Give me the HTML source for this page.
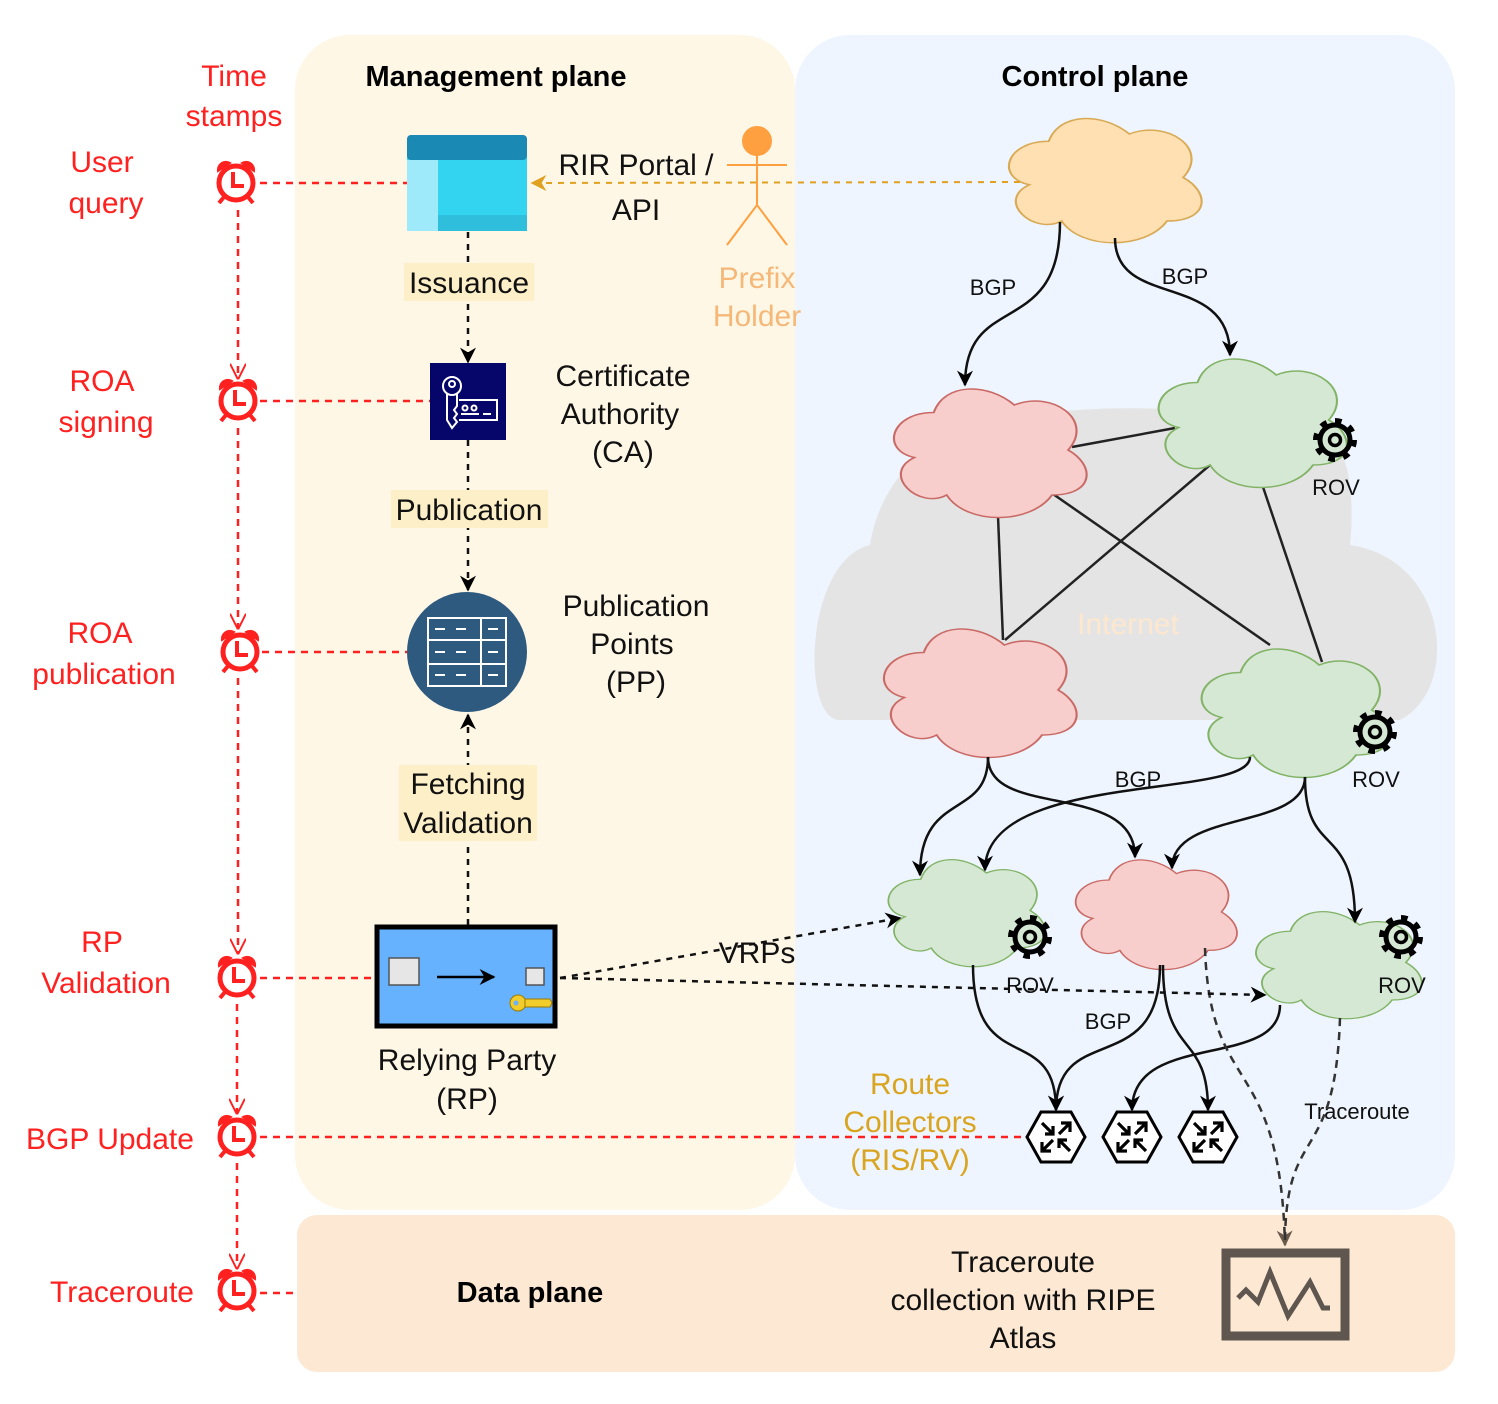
<!DOCTYPE html>
<html><head><meta charset="utf-8"><style>
html,body{margin:0;padding:0;background:#fff;}
svg{display:block;font-family:"Liberation Sans",Arial,sans-serif;}
</style></head><body>
<svg width="1498" height="1404" viewBox="0 0 1498 1404" xmlns="http://www.w3.org/2000/svg">
<defs>
<path id="cl" d="M25,25 C5,25 0,50 16,55 C0,66 18,90 31,80 C40,100 70,100 80,80 C100,80 100,60 87.5,50 C100,30 80,10 62.5,20 C50,5 30,5 25,25 Z"/>
<marker id="ahb" viewBox="0 0 10 10" refX="9" refY="5" markerWidth="16" markerHeight="16" orient="auto" markerUnits="userSpaceOnUse"><path d="M0,0 L10,5 L0,10 L3,5 Z" fill="#000"/></marker>
<marker id="aho" viewBox="0 0 10 10" refX="9" refY="5" markerWidth="16" markerHeight="16" orient="auto" markerUnits="userSpaceOnUse"><path d="M0,0 L10,5 L0,10 L3,5 Z" fill="#e0a020"/></marker>
<marker id="ahbr" viewBox="0 0 10 10" refX="9" refY="5" markerWidth="16" markerHeight="16" orient="auto" markerUnits="userSpaceOnUse"><path d="M0,0 L10,5 L0,10 L3,5 Z" fill="#6a5a4a"/></marker>
<marker id="ahr" viewBox="0 0 10 10" refX="9" refY="5" markerWidth="16" markerHeight="16" orient="auto" markerUnits="userSpaceOnUse"><path d="M0,0 L10,5 L0,10" fill="none" stroke="#ff2020" stroke-width="1.2"/></marker>
<g id="gear"><circle r="19" fill="none" stroke="#000" stroke-width="6" stroke-dasharray="6.5 8.4"/><circle r="15" fill="none" stroke="#000" stroke-width="5"/><circle r="5.5" fill="none" stroke="#000" stroke-width="3.5"/></g>
<g id="alarm" fill="none" stroke="#ff2020"><path d="M-18,-12 A8,8 0 0 1 -6,-20 Z M18,-12 A8,8 0 0 0 6,-20 Z" fill="#ff2020" stroke-width="2"/><circle r="17" stroke-width="5" fill="#fff"/><path d="M-3,-11 V3 H8" stroke-width="4"/><path d="M-12,14 L-17,20 M12,14 L17,20" stroke-width="4"/></g>
<g id="hex"><path d="M-29,0 L-15,-25 L15,-25 L29,0 L15,25 L-15,25 Z" fill="#fff" stroke="#000" stroke-width="3"/><g stroke="#000" stroke-width="3.2" fill="none"><path d="M-14,-14 L-3,-3 M-3,-11 V-3 H-11"/><path d="M14,-14 L3,-3 M5,-14 H14 V-5" /><path d="M-14,14 L-3,3 M-14,5 V14 H-5"/><path d="M14,14 L3,3 M3,11 V3 H11"/></g></g>
</defs>

<rect x="295" y="35" width="500" height="1175" rx="55" fill="#fef7e6"/>
<rect x="795" y="35" width="660" height="1175" rx="55" fill="#eef5fe"/>
<rect x="297" y="1215" width="1158" height="157" rx="20" fill="#fde9d3"/>

<text x="496" y="86" font-size="29" font-weight="bold" text-anchor="middle">Management plane</text>
<text x="1095" y="86" font-size="29" font-weight="bold" text-anchor="middle">Control plane</text>

<path d="M840,720 C800,720 805,560 870,545 C880,480 930,430 1000,420 C1100,400 1250,405 1330,440 C1360,460 1350,545 1350,545 C1450,560 1460,690 1400,720 Z" fill="#e4e4e4"/>
<text x="1128" y="634" font-size="30" fill="#fde7cf" text-anchor="middle">Internet</text>

<g stroke="#222" stroke-width="2.5" fill="none">
<line x1="1072" y1="447" x2="1175" y2="428"/>
<line x1="1053" y1="494" x2="1270" y2="645"/>
<line x1="998" y1="516" x2="1003" y2="640"/>
<line x1="1005" y1="640" x2="1210" y2="465"/>
<line x1="1263" y1="487" x2="1322" y2="662"/>
</g>

<g>
<use href="#cl" transform="translate(995,105) scale(2.15,1.45)" fill="#ffe0b2" stroke="#d9aa55" stroke-width="1"/>
<use href="#cl" transform="translate(880,375) scale(2.15,1.5)" fill="#f8cecc" stroke="#c96a66" stroke-width="1"/>
<use href="#cl" transform="translate(1145,345) scale(2.1,1.5)" fill="#d5e8d4" stroke="#82b366" stroke-width="1"/>
<use href="#cl" transform="translate(870,615) scale(2.15,1.5)" fill="#f8cecc" stroke="#c96a66" stroke-width="1"/>
<use href="#cl" transform="translate(1188,635) scale(2.1,1.5)" fill="#d5e8d4" stroke="#82b366" stroke-width="1"/>
<use href="#cl" transform="translate(877,848) scale(1.75,1.25)" fill="#d5e8d4" stroke="#82b366" stroke-width="1"/>
<use href="#cl" transform="translate(1064,848) scale(1.8,1.28)" fill="#f8cecc" stroke="#c96a66" stroke-width="1"/>
<use href="#cl" transform="translate(1244,900) scale(1.85,1.25)" fill="#d5e8d4" stroke="#82b366" stroke-width="1"/>
</g>

<use href="#gear" x="1335" y="440"/>
<use href="#gear" x="1375" y="732"/>
<use href="#gear" x="1030" y="937"/>
<use href="#gear" x="1401" y="937"/>
<g font-size="22" text-anchor="middle" fill="#111">
<text x="1336" y="495">ROV</text><text x="1376" y="787">ROV</text>
<text x="1030" y="993">ROV</text><text x="1402" y="993">ROV</text>
<text x="993" y="295">BGP</text><text x="1185" y="284">BGP</text>
<text x="1138" y="787">BGP</text><text x="1108" y="1029">BGP</text>
<text x="1357" y="1119">Traceroute</text>
</g>

<g stroke="#111" stroke-width="2.5" fill="none" marker-end="url(#ahb)">
<path d="M1060,222 C1060,340 965,290 965,385"/>
<path d="M1115,238 C1115,310 1230,270 1230,355"/>
<path d="M988,757 C988,820 920,790 920,875"/>
<path d="M988,757 C988,820 1135,780 1135,857"/>
<path d="M1250,757 C1250,800 985,770 985,870"/>
<path d="M1305,777 C1305,830 1172,810 1172,868"/>
<path d="M1305,777 C1305,860 1355,820 1355,922"/>
<path d="M973,965 C973,1080 1056,1020 1056,1110"/>
<path d="M1160,965 C1160,1080 1056,1020 1056,1110"/>
<path d="M1163,965 C1163,1060 1208,1030 1208,1110"/>
<path d="M1280,1005 C1280,1070 1132,1030 1132,1110"/>
</g>
<g stroke="#333" stroke-width="2.5" fill="none" stroke-dasharray="8 6">
<path d="M1205,948 C1210,1100 1280,1050 1285,1245" marker-end="url(#ahbr)"/>
<path d="M1340,1018 C1335,1170 1285,1120 1285,1245"/>
</g>

<use href="#hex" x="1056" y="1137"/><use href="#hex" x="1132" y="1137"/><use href="#hex" x="1208" y="1137"/>

<g font-size="30" fill="#d9a520" text-anchor="middle">
<text x="910" y="1094">Route</text><text x="910" y="1132">Collectors</text><text x="910" y="1170">(RIS/RV)</text>
</g>

<rect x="407" y="135" width="120" height="96" rx="5" fill="#32d4f0"/>
<rect x="407" y="135" width="120" height="25" rx="4" fill="#1a8ab4"/>
<rect x="407" y="160" width="31" height="71" fill="#9eeafb"/>
<rect x="438" y="215" width="89" height="16" fill="#2fbedc"/>

<rect x="430" y="363" width="76" height="77" fill="#06066a"/>
<g stroke="#fff" stroke-width="2" fill="none">
<circle cx="452" cy="386" r="9"/><circle cx="452" cy="384" r="3"/>
<path d="M447,394 V420 L452,428 L457,422 L454,418 L457,414 L454,410 L457,406 V394"/>
<path d="M459,400 H497 V420 H459"/>
<circle cx="465" cy="408" r="2.5"/><circle cx="474" cy="408" r="2.5"/>
<path d="M461,414 H479 M483,414 H491"/>
</g>

<circle cx="467" cy="652" r="60" fill="#2e5a80"/>
<g stroke="#fff" stroke-width="2" fill="none">
<rect x="428" y="618" width="78" height="68"/>
<line x1="428" y1="640" x2="506" y2="640"/><line x1="428" y1="664" x2="506" y2="664"/><line x1="481" y1="618" x2="481" y2="686"/>
<path d="M435,629 h10 M456,629 h10 M488,629 h10 M435,652 h10 M456,652 h10 M488,652 h10 M435,675 h10 M456,675 h10 M488,675 h10"/>
</g>

<rect x="377" y="927" width="178" height="99" fill="#66b2ff" stroke="#000" stroke-width="5"/>
<rect x="389" y="958" width="30" height="27" fill="#e6e6e6" stroke="#555" stroke-width="1.5"/>
<rect x="526" y="968" width="18" height="17" fill="#e6e6e6" stroke="#555" stroke-width="1.5"/>
<line x1="437" y1="977" x2="494" y2="977" stroke="#000" stroke-width="2.5" marker-end="url(#ahb)"/>
<g fill="#f2cc2a" stroke="#9a7a00" stroke-width="1"><circle cx="518" cy="1003" r="8"/><path d="M525,999 H550 L552,1003 L550,1007 H525 Z"/></g>
<circle cx="516" cy="1003" r="2.5" fill="#66b2ff"/>

<g stroke="#111" stroke-width="2.5" fill="none" stroke-dasharray="6 6">
<path d="M468,232 V362" marker-end="url(#ahb)"/>
<path d="M468,440 V590" marker-end="url(#ahb)"/>
<path d="M468,925 V715" marker-end="url(#ahb)"/>
<path d="M560,978 L900,918" marker-end="url(#ahb)"/>
<path d="M560,978 L1265,995" marker-end="url(#ahb)"/>
</g>
<g fill="#fdefc8">
<rect x="404" y="263" width="130" height="38"/>
<rect x="391" y="490" width="157" height="38"/>
<rect x="399" y="765" width="138" height="76"/>
</g>
<g font-size="30" text-anchor="middle" fill="#111">
<text x="469" y="293">Issuance</text>
<text x="469" y="520">Publication</text>
<text x="468" y="794">Fetching</text><text x="468" y="833">Validation</text>
<text x="623" y="386">Certificate</text><text x="620" y="424">Authority</text><text x="623" y="462">(CA)</text>
<text x="636" y="616">Publication</text><text x="632" y="654">Points</text><text x="636" y="692">(PP)</text>
<text x="467" y="1070">Relying Party</text><text x="467" y="1109">(RP)</text>
<text x="636" y="175">RIR Portal /</text><text x="636" y="220">API</text>
<text x="757" y="963">VRPs</text>
</g>

<g stroke="#ffa040" stroke-width="2" fill="none">
<circle cx="757" cy="141" r="14" fill="#ffa040"/>
<line x1="757" y1="155" x2="757" y2="205"/><line x1="727" y1="165" x2="787" y2="165"/>
<path d="M727,245 L757,205 L787,245"/>
</g>
<path d="M1020,182 L532,183" stroke="#e0a020" stroke-width="2" stroke-dasharray="6 6" fill="none" marker-end="url(#aho)"/>
<g font-size="30" fill="#f5b878" text-anchor="middle"><text x="757" y="288">Prefix</text><text x="757" y="326">Holder</text></g>

<g stroke="#ff2020" stroke-width="2.5" stroke-dasharray="7 6" fill="none">
<line x1="260" y1="183" x2="407" y2="183"/>
<line x1="260" y1="401" x2="430" y2="401"/>
<line x1="262" y1="652" x2="407" y2="652"/>
<line x1="260" y1="978" x2="377" y2="978"/>
<line x1="260" y1="1137" x2="1027" y2="1137"/>
<line x1="260" y1="1293" x2="297" y2="1293"/>
<path d="M238,210 V378" marker-end="url(#ahr)"/>
<path d="M238,428 V628" marker-end="url(#ahr)"/>
<path d="M238,678 V953" marker-end="url(#ahr)"/>
<path d="M237,1004 V1113" marker-end="url(#ahr)"/>
<path d="M237,1163 V1268" marker-end="url(#ahr)"/>
</g>
<use href="#alarm" x="236" y="183"/>
<use href="#alarm" x="238" y="401"/>
<use href="#alarm" x="240" y="652"/>
<use href="#alarm" x="237" y="978"/>
<use href="#alarm" x="237" y="1137"/>
<use href="#alarm" x="237" y="1291"/>
<g font-size="30" fill="#ff2020" text-anchor="middle">
<text x="234" y="86">Time</text><text x="234" y="126">stamps</text>
<text x="102" y="172">User</text><text x="106" y="213">query</text>
<text x="102" y="391">ROA</text><text x="106" y="432">signing</text>
<text x="100" y="643">ROA</text><text x="104" y="684">publication</text>
<text x="102" y="952">RP</text><text x="106" y="993">Validation</text>
<text x="110" y="1149">BGP Update</text>
<text x="122" y="1302">Traceroute</text>
</g>

<text x="530" y="1302" font-size="29" font-weight="bold" text-anchor="middle">Data plane</text>
<g font-size="30" text-anchor="middle" fill="#111">
<text x="1023" y="1272">Traceroute</text><text x="1023" y="1310">collection with RIPE</text><text x="1023" y="1348">Atlas</text>
</g>
<rect x="1226" y="1253" width="119" height="83" fill="none" stroke="#5f574f" stroke-width="9"/>
<path d="M1238,1298 L1246,1290 L1258,1302 L1270,1272 L1288,1316 L1310,1282 L1323,1308 L1330,1308" fill="none" stroke="#5f574f" stroke-width="5"/>
</svg>
</body></html>
